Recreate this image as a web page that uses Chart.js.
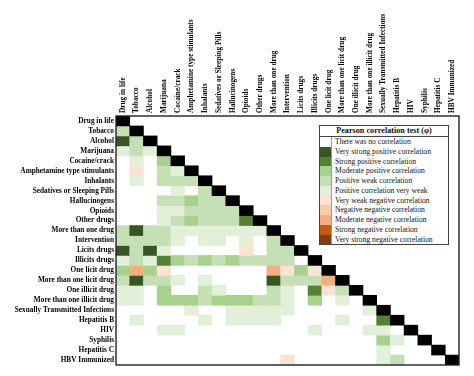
<!DOCTYPE html>
<html>
<head>
<meta charset="utf-8">
<script src="https://cdn.jsdelivr.net/npm/chart.js@4.4.1/dist/chart.umd.min.js"></script>
<style>
  html, body { margin: 0; padding: 0; background: #fff; }
  #wrap { position: relative; width: 474px; height: 376px; }
  #legend { position: absolute; left: 319px; top: 125px; width: 130px; border: 1px solid #444; background: #fff;
            font-family: 'Liberation Serif', 'Times New Roman', serif; color: #111; box-sizing: border-box; }
  #legend .ttl { font-weight: bold; font-size: 8.2px; height: 10px; line-height: 10px; text-align: center; border-bottom: 1px solid #444; }
  #legend .it { display: flex; height: 9.75px; line-height: 9.75px; font-size: 7.6px; white-space: nowrap; }
  #legend .sw { width: 11px; flex: none; border-right: 1px solid #999; }
  #legend .tx { padding-left: 3px; }
</style>
</head>
<body>
<div id="wrap">
  <canvas id="c"></canvas>
  <div id="legend"></div>
</div>
<script>
// Variable names (rows and columns)
const varLabels = [
  'Drug in life', 'Tobacco', 'Alcohol', 'Marijuana', 'Cocaine/crack',
  'Amphetamine type stimulants', 'Inhalants', 'Sedatives or Sleeping Pills',
  'Hallucinogens', 'Opioids', 'Other drugs', 'More than one drug', 'Intervention',
  'Licits drugs', 'Illicits drugs', 'One licit drug', 'More than one licit drug',
  'One illicit drug', 'More than one illicit drug', 'Sexually Transmitted Infections',
  'Hepatitis B', 'HIV', 'Syphilis', 'Hepatitis C', 'HBV Immunized'
];

// Correlation class per cell (lower triangle, one list per row).
// 5..1 = very strong .. very weak positive, 0 = none, -1..-5 = very weak .. very strong negative
const rowDrugInLife   = [];
const rowTobacco      = [2];
const rowAlcohol      = [5, 2];
const rowMarijuana    = [1, 2, 1];
const rowCocaine      = [0, 1, 0, 3];
const rowAmphetamine  = [0, -1, 0, 2, 1];
const rowInhalants    = [0, 1, 0, 2, 2, 2];
const rowSedatives    = [0, 0, 0, 0, 1, 0, 2];
const rowHallucinogens= [0, 0, 0, 2, 2, 3, 2, 2];
const rowOpioids      = [0, 0, 0, 1, 1, 2, 2, 2, 2];
const rowOtherDrugs   = [0, 0, 0, 1, 2, 3, 2, 2, 2, 4];
const rowMoreThanOne  = [2, 5, 2, 2, 1, 1, 1, 1, 1, 1, 1];
const rowIntervention = [2, 2, 2, 2, 1, 0, 1, 1, 0, 1, 0, 2];
const rowLicits       = [5, 2, 5, 1, 0, 0, 0, 0, 0, -1, 0, 2, 2];
const rowIllicits     = [1, 2, 1, 4, 3, 2, 3, 2, 3, 2, 2, 2, 2, 0];
const rowOneLicit     = [3, -3, 3, -1, 0, 0, 0, 0, 0, 0, 0, -3, -1, 3, -1];
const rowMoreLicit    = [2, 5, 2, 2, 1, 0, 1, 0, 0, 0, 0, 5, 2, 2, 2, -3];
const rowOneIllicit   = [1, 1, 0, 3, 0, 0, 2, 1, 0, 0, 0, 2, 1, 0, 4, -1, 2];
const rowMoreIllicit  = [1, 1, 0, 3, 3, 3, 2, 3, 3, 3, 2, 2, 1, 0, 3, 0, 1, 0];
const rowSTI          = [0, 0, 0, 0, 0, 1, 0, 0, 1, 1, 1, 1, 1, 0, 0, 0, 0, 0, 1];
const rowHepB         = [0, 1, 0, 0, 0, 0, 1, 0, 1, 1, 1, 1, 0, 0, 0, 0, 1, 0, 0, 4];
const rowHIV          = [0, 0, 0, 1, 1, 0, 0, 0, 0, 0, 0, 0, 0, 0, 1, 0, 0, 0, 1, 1, 0];
const rowSyphilis     = [0, 0, 0, 0, 0, 0, 0, 0, 0, 0, 0, 0, 0, 0, 0, 0, 0, 0, 0, 3, 1, 0];
const rowHepC         = [0, 0, 0, 0, 0, 0, 0, 0, 0, 0, 0, 0, 0, 0, 0, 0, 0, 0, 0, 1, 0, 0, 0];
const rowHBV          = [0, 0, 0, 0, 0, 0, 0, 0, 0, 0, 0, 0, -1, 0, 0, 0, 0, 0, 0, 1, 2, 0, 0, 0];

// Legend classes
const legendLabels = [
  'There was no correlation', 'Very strong positive correlation', 'Strong positive correlation',
  'Moderate positive correlation', 'Positive weak correlation', 'Positive correlation very weak',
  'Very weak negative correlation', 'Negative negative correlation', 'Moderate negative correlation',
  'Strong negative correlation', 'Very strong negative correlation'
];
const legendLevels = [0, 5, 4, 3, 2, 1, -1, -2, -3, -4, -5];
const levelColors = {
  '5': '#375623', '4': '#548235', '3': '#a9d18e', '2': '#c5e0b4', '1': '#e2f0d9', '0': '#ffffff',
  '-1': '#fbe3d4', '-2': '#f8cbad', '-3': '#f4ae7f', '-4': '#c55a11', '-5': '#843c0c'
};

const rows = [rowDrugInLife, rowTobacco, rowAlcohol, rowMarijuana, rowCocaine, rowAmphetamine,
  rowInhalants, rowSedatives, rowHallucinogens, rowOpioids, rowOtherDrugs, rowMoreThanOne,
  rowIntervention, rowLicits, rowIllicits, rowOneLicit, rowMoreLicit, rowOneIllicit,
  rowMoreIllicit, rowSTI, rowHepB, rowHIV, rowSyphilis, rowHepC, rowHBV];

const FONT = "'Liberation Serif', 'Times New Roman', serif";
const LABEL_SIZE = 7.3;

const datasets = rows.map((vals, r) => ({
  label: varLabels[r],
  data: varLabels.map((_, c) => (c === r || (c < r && vals[c] !== 0)) ? [r, r + 1] : null),
  backgroundColor: varLabels.map((_, c) => c === r ? '#000000' : (c < r ? levelColors[String(vals[c])] : 'rgba(0,0,0,0)')),
  borderWidth: 0,
  categoryPercentage: 1,
  barPercentage: 1,
  grouped: false
}));

const frame = {
  id: 'frame',
  afterDatasetsDraw(chart) {
    const { ctx, chartArea: a } = chart;
    ctx.save();
    ctx.strokeStyle = '#222';
    ctx.lineWidth = 1.4;
    ctx.strokeRect(a.left, a.top, a.right - a.left, a.bottom - a.top);
    ctx.restore();
  }
};

new Chart(document.getElementById('c'), {
  type: 'bar',
  data: { labels: varLabels, datasets },
  options: {
    responsive: true,
    maintainAspectRatio: false,
    animation: false,
    layout: { padding: { left: 0, top: 0, right: 15, bottom: 11 } },
    plugins: { legend: { display: false }, tooltip: { enabled: false } },
    scales: {
      x: {
        type: 'category',
        position: 'top',
        grid: { display: false, drawTicks: false },
        border: { display: false },
        ticks: {
          autoSkip: false, minRotation: 90, maxRotation: 90, padding: 3,
          labelOffset: LABEL_SIZE * 1.2,
          color: '#000', font: { family: FONT, size: LABEL_SIZE, weight: 'bold' }
        },
        afterFit(s) { s.height = 116; }
      },
      y: {
        type: 'linear',
        min: 0, max: 25, reverse: true,
        grid: { display: false, drawTicks: false },
        border: { display: false },
        afterBuildTicks(axis) { axis.ticks = varLabels.map((_, i) => ({ value: i + 0.5 })); },
        ticks: {
          autoSkip: false, padding: 2, color: '#000',
          font: { family: FONT, size: LABEL_SIZE, weight: 'bold' },
          callback: (v) => varLabels[Math.round(v - 0.5)]
        },
        afterFit(s) { s.width = 116; }
      }
    }
  },
  plugins: [frame]
});

// HTML legend built from the legend arrays
const lg = document.getElementById('legend');
const t = document.createElement('div');
t.className = 'ttl';
t.textContent = 'Pearson correlation test (φ)';
lg.appendChild(t);
legendLabels.forEach((lab, i) => {
  const it = document.createElement('div');
  it.className = 'it';
  const sw = document.createElement('div');
  sw.className = 'sw';
  sw.style.background = levelColors[String(legendLevels[i])];
  const tx = document.createElement('div');
  tx.className = 'tx';
  tx.textContent = lab;
  it.appendChild(sw); it.appendChild(tx);
  lg.appendChild(it);
});
</script>
</body>
</html>
